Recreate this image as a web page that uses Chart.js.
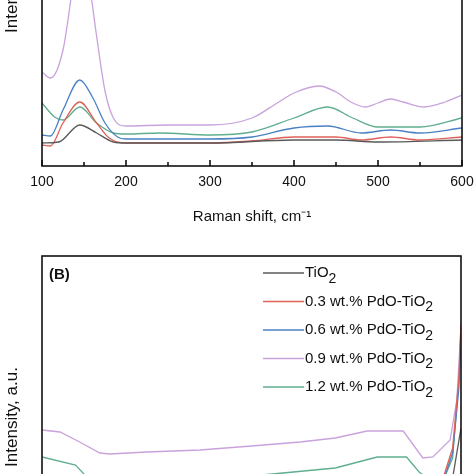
<!DOCTYPE html>
<html>
<head>
<meta charset="utf-8">
<script src="https://cdn.jsdelivr.net/npm/chart.js@4/dist/chart.umd.min.js"></script>
<style>
  html, body { margin: 0; padding: 0; background: #fff; }
  body { width: 474px; height: 474px; position: relative; overflow: hidden; }
  #wrapA { position: absolute; left: 0; top: -230px; width: 474px; height: 456px; }
  #wrapB { position: absolute; left: 0; top: 240px; width: 474px; height: 360px; }
</style>
</head>
<body>
<div id="wrapA"><canvas id="chartA"></canvas></div>
<div id="wrapB"><canvas id="chartB"></canvas></div>
<script>
const labels = ["TiO2", "0.3 wt.% PdO-TiO2", "0.6 wt.% PdO-TiO2", "0.9 wt.% PdO-TiO2", "1.2 wt.% PdO-TiO2"];
const colors = ["#5a5a5a", "#e0605a", "#4a80c4", "#c9a2dc", "#5fae8e"];

// panel A (Raman), x = cm-1
const ramanBlack = [[100,23],[120,24],[145,41],[165,33],[185,24],[200,23],[300,23],[400,26],[450,26],[500,24],[600,26]];
const ramanRed = [[100,21],[110,20],[125,43],[145,64],[165,43],[180,28],[200,23],[300,23],[350,25],[400,29],[450,29],[480,26],[515,29],[550,26],[600,29]];
const ramanBlue = [[100,31],[110,30],[125,56],[145,86],[160,69],[175,43],[190,29],[200,27],[300,27],[350,29],[400,38],[440,40],[480,33],[515,36],[550,33],[600,38]];
const ramanPurple = [[100,94],[110,88],[125,116],[135,170],[145,226],[155,190],[165,130],[175,75],[185,48],[200,40],[250,41],[300,41],[350,48],[380,63],[400,73],[430,80],[450,74],[470,63],[485,59],[500,63],[515,67],[530,64],[555,59],[580,64],[600,71]];
const ramanGreen = [[100,63],[115,49],[125,46],[145,59],[165,43],[185,33],[200,32],[240,33],[300,31],[350,34],[400,48],[440,59],[470,48],[500,39],[550,39],[600,48]];

// panel B, x in % of axis span
const bBlack = [[0,80],[50,80],[95,80],[98,100],[100,150]];
const bRed = [[0,90],[50,90],[95,90],[98,130],[99.5,200],[100,255]];
const bBlue = [[0,88],[50,88],[95,88],[98,125],[99.5,190],[100,248]];
const bPurple = [[0,148],[4.3,146],[9,136],[13.8,125],[16.2,124],[25,126],[37.7,128],[50,132],[61.6,136],[70,140],[77.6,147],[86.2,147],[90.9,120],[93.3,121],[97.4,138],[99,178],[100,250]];
const bGreen = [[0,121],[8,113],[10,104],[15,95],[30,100],[50,102],[70,110],[80,121],[87,121],[90,106],[95,90],[98,120],[99.5,200],[100,240]];

function toXY(arr) { return arr.map(p => ({ x: p[0], y: p[1] })); }

function makeSets(list, tension) {
  return list.map((d, i) => ({
    label: labels[i], data: toXY(d), borderColor: colors[i], borderWidth: 1.3,
    pointRadius: 0, tension: tension, cubicInterpolationMode: tension ? "monotone" : "default", fill: false
  }));
}

const fam = "'Liberation Sans', Arial, sans-serif";

const frame = {
  id: "frame",
  afterDraw(chart, args, opts) {
    const c = chart.ctx, a = chart.chartArea;
    c.save();
    c.strokeStyle = "#111"; c.lineWidth = 1.6;
    c.strokeRect(a.left, a.top, a.right - a.left, a.bottom - a.top);
    if (opts.ticks) {
      const xs = chart.scales.x;
      opts.ticks.forEach(v => {
        const px = xs.getPixelForValue(v);
        const len = v % 100 === 0 ? 6 : 4;
        c.beginPath(); c.moveTo(px, a.bottom); c.lineTo(px, a.bottom - len); c.stroke();
      });
    }
    if (opts.legend) {
      c.textBaseline = "middle";
      chart.data.datasets.forEach((ds, i) => {
        const y = 33 + i * 28.5;
        c.strokeStyle = ds.borderColor; c.lineWidth = 1.5;
        c.beginPath(); c.moveTo(263, y); c.lineTo(304, y); c.stroke();
        c.fillStyle = "#111";
        const main = ds.label.slice(0, -1);
        c.font = "15px " + fam;
        c.fillText(main, 305, y);
        const w = c.measureText(main).width;
        c.font = "14px " + fam;
        c.fillText(ds.label.slice(-1), 305 + w, y + 6);
      });
      c.font = "bold 15px " + fam;
      c.fillText("(B)", 49, 35);
    }
    c.restore();
  }
};

const font = { family: fam, size: 14 };
const yTitle = { display: true, text: "Intensity, a.u.", color: "#111", font: { family: fam, size: 17 }, padding: { top: 2, bottom: 0 } };

new Chart(document.getElementById("chartA"), {
  type: "line",
  data: { datasets: makeSets([ramanBlack, ramanRed, ramanBlue, ramanPurple, ramanGreen], 0.4) },
  options: {
    responsive: true, maintainAspectRatio: false, animation: false,
    layout: { padding: { top: 30, right: 12, left: 0, bottom: 0 } },
    plugins: { legend: { display: false }, tooltip: { enabled: false }, frame: { ticks: [100,150,200,250,300,350,400,450,500,550,600] } },
    scales: {
      x: {
        type: "linear", min: 100, max: 600,
        grid: { display: false },
        border: { display: false },
        ticks: { stepSize: 100, color: "#111", font: font, padding: 0, maxRotation: 0 },
        title: { display: true, text: "Raman shift, cm⁻¹", color: "#111", font: { family: fam, size: 15 }, padding: 0 },
        afterFit(s) { s.height = 60; }
      },
      y: {
        min: 0, max: 366,
        grid: { display: false }, border: { display: false },
        ticks: { display: false },
        title: yTitle,
        afterFit(s) { s.width = 42; }
      }
    }
  },
  plugins: [frame]
});

new Chart(document.getElementById("chartB"), {
  type: "line",
  data: { datasets: makeSets([bBlack, bRed, bBlue, bPurple, bGreen], 0) },
  options: {
    responsive: true, maintainAspectRatio: false, animation: false,
    layout: { padding: { top: 16, right: 13, left: 0, bottom: 0 } },
    plugins: { legend: { display: false }, tooltip: { enabled: false }, frame: { legend: true } },
    scales: {
      x: {
        type: "linear", min: 0, max: 100,
        grid: { display: false }, border: { display: false },
        ticks: { display: false },
        afterFit(s) { s.height = 22; }
      },
      y: {
        min: 0, max: 322,
        grid: { display: false }, border: { display: false },
        ticks: { display: false },
        title: yTitle,
        afterFit(s) { s.width = 42; }
      }
    }
  },
  plugins: [frame]
});
</script>
</body>
</html>
